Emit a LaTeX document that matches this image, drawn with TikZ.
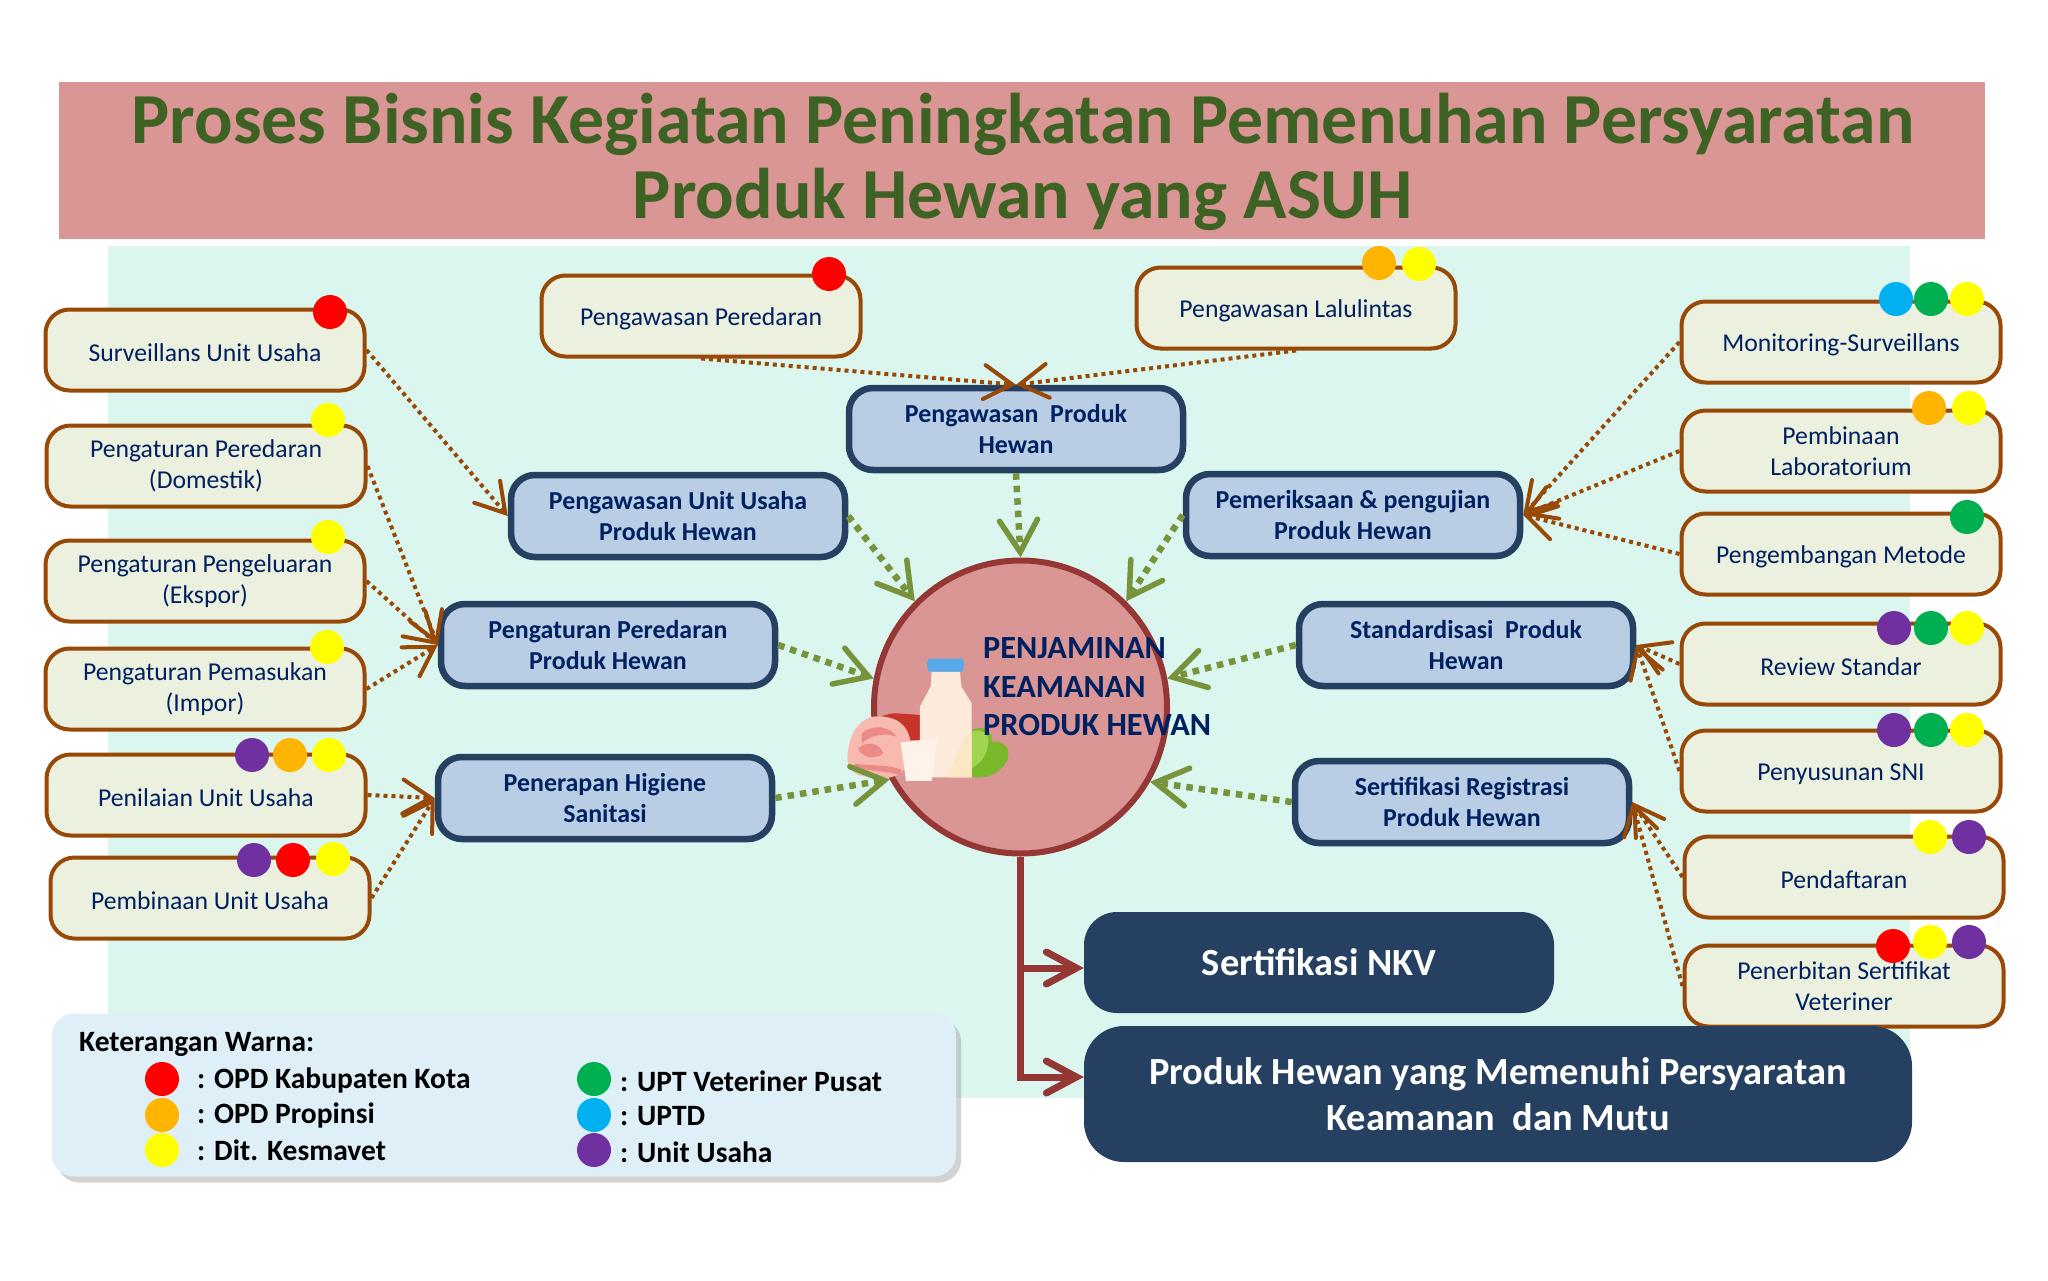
\documentclass[tikz,border=0pt]{standalone}
\usepackage{fontspec}
\setmainfont{Carlito}
\usetikzlibrary{arrows.meta, shadows}

\definecolor{bandfill}{HTML}{D99694}
\definecolor{titlegreen}{HTML}{3D6223}
\definecolor{mintfill}{HTML}{DAF6EE}
\definecolor{tanfill}{HTML}{EBF1DE}
\definecolor{tanline}{HTML}{984807}
\definecolor{bluefill}{HTML}{B9CDE5}
\definecolor{darkblue}{HTML}{254061}
\definecolor{navytext}{HTML}{002060}
\definecolor{hubline}{HTML}{953735}
\definecolor{greenlink}{HTML}{77933C}
\definecolor{legendfill}{HTML}{DEEFF8}
\definecolor{dotred}{HTML}{FF0000}
\definecolor{dotorange}{HTML}{FFB400}
\definecolor{dotyellow}{HTML}{FFFF00}
\definecolor{dotpurple}{HTML}{7030A0}
\definecolor{dotgreen}{HTML}{00B050}
\definecolor{dotcyan}{HTML}{00B0F0}
\definecolor{meatred}{HTML}{C8342A}
\definecolor{meatpink}{HTML}{F7B9B0}
\definecolor{meatdark}{HTML}{EC8A86}
\definecolor{milkfill}{HTML}{FCEBDB}
\definecolor{milkshade}{HTML}{FBE7C4}
\definecolor{glassfill}{HTML}{FDF3E8}
\definecolor{capblue}{HTML}{58A9EA}
\definecolor{leafdark}{HTML}{78B82A}
\definecolor{leaflight}{HTML}{A3D44F}

\tikzset{
  tanbox/.style = {
    rectangle, rounded corners = 24pt, draw = tanline, fill = tanfill, line width = 4pt,
    minimum width = 319pt, minimum height = 81pt, inner sep = 0pt, align = center,
    text = navytext, font = \fontsize{25.7}{31}\selectfont,
    execute at begin node = {\rule{0pt}{23pt}}
  },
  bluebox/.style = {
    rectangle, rounded corners = 24pt, draw = darkblue, fill = bluefill, line width = 6.5pt,
    minimum width = 334pt, minimum height = 82pt, inner sep = 0pt, align = center,
    text = navytext, font = \bfseries\fontsize{25.9}{30.5}\selectfont
  },
  darkbox/.style = {
    rectangle, fill = darkblue, inner sep = 0pt, align = center,
    text = white, font = \bfseries\fontsize{38.4}{46}\selectfont
  },
  dot/.style = { circle, minimum size = 34pt, inner sep = 0pt, fill = #1 },
  legendtext/.style = { anchor = west, inner sep = 0pt, font = \bfseries\fontsize{29.5}{34}\selectfont },
  brownlink/.style = {
    draw = tanline, line width = 4pt, dash pattern = on 4pt off 4pt,
    -{Straight Barb[length = 28pt, width = 34pt, line width = 4pt, line cap = round]}
  },
  greenarrow/.style = {
    draw = greenlink, line width = 6.5pt, dash pattern = on 6.5pt off 6pt,
    -{Straight Barb[length = 32pt, width = 38pt, line width = 5.5pt, line cap = round]}
  },
  hublink/.style = {
    draw = hubline, line width = 7pt,
    -{Straight Barb[length = 30pt, width = 32pt, line width = 7pt, line cap = round]}
  }
}

\begin{document}
\begin{tikzpicture}[x = 1pt, y = -1pt]
  \useasboundingbox (0,0) rectangle (2048,1280);

  % backgrounds
  \fill [bandfill] (59,82) rectangle (1985,239);
  \fill [mintfill] (108,246) rectangle (1910,1098);

  \node [text = titlegreen, align = center, inner sep = 0pt, font = \bfseries\fontsize{71.8}{74.5}\selectfont]
    (title) at (1023,162) {Proses Bisnis Kegiatan Peningkatan Pemenuhan Persyaratan\\Produk Hewan yang ASUH};

  % left activities
  \node [tanbox] (surveillans) at (205,350) {Surveillans Unit Usaha};
  \node [tanbox] (domestik) at (206,466) {Pengaturan Peredaran\\(Domestik)};
  \node [tanbox] (ekspor) at (205,581) {Pengaturan Pengeluaran\\(Ekspor)};
  \node [tanbox] (impor) at (205,689) {Pengaturan Pemasukan\\(Impor)};
  \node [tanbox] (penilaian) at (206,795) {Penilaian Unit Usaha};
  \node [tanbox] (pembinaan) at (210,898) {Pembinaan Unit Usaha};

  % top activities
  \node [tanbox] (peredaran) at (701,316) {Pengawasan Peredaran};
  \node [tanbox] (lalulintas) at (1296,308) {Pengawasan Lalulintas};

  % right activities
  \node [tanbox] (monitoring) at (1841,342) {Monitoring-Surveillans};
  \node [tanbox] (laboratorium) at (1841,451) {Pembinaan\\Laboratorium};
  \node [tanbox] (metode) at (1841,554) {Pengembangan Metode};
  \node [tanbox] (review) at (1841,664) {Review Standar};
  \node [tanbox] (sni) at (1841,771) {Penyusunan SNI};
  \node [tanbox] (pendaftaran) at (1844,877) {Pendaftaran};
  \node [tanbox] (penerbitan) at (1844,986) {Penerbitan Sertifikat\\Veteriner};

  % groups
  \node [bluebox] (unitusaha) at (678,516) {Pengawasan Unit Usaha\\Produk Hewan};
  \node [bluebox] (pengaturan) at (608,645) {Pengaturan Peredaran\\Produk Hewan};
  \node [bluebox] (higiene) at (605,798) {Penerapan Higiene\\Sanitasi};
  \node [bluebox] (pengawasan) at (1016,429) {Pengawasan\ \ Produk\\Hewan};
  \node [bluebox] (pemeriksaan) at (1353,515) {Pemeriksaan \& pengujian\\Produk Hewan};
  \node [bluebox] (standar) at (1466,645) {Standardisasi\ \ Produk\\Hewan};
  \node [bluebox] (sertifikasi) at (1462,802) {Sertifikasi Registrasi\\Produk Hewan};

  % centre
  \node [circle, draw = hubline, fill = bandfill, line width = 6pt, minimum size = 293pt, inner sep = 0pt]
    (hub) at (1020.5,707) {};

  % food picture
  \begin{scope}[shift = {(800,500)}, x = 0.3333pt, y = -0.3333pt]
    \fill [meatred] (225,660) to [out = 30, in = 180] (290,640) -- (362,645) -- (362,720) -- (260,720) -- cycle;
    \fill [meatpink] (142,775) .. controls (145,690) and (190,640) .. (250,650)
      .. controls (310,655) and (340,700) .. (330,760)
      .. controls (320,820) and (290,835) .. (240,835)
      .. controls (190,830) and (145,830) .. (142,775);
    \fill [meatdark] (185,700) .. controls (220,670) and (270,680) .. (290,710)
      .. controls (260,700) and (220,700) .. (185,730) -- cycle;
    \fill [meatdark] (175,745) .. controls (200,720) and (240,730) .. (250,760)
      .. controls (230,780) and (185,775) .. (175,745);
    \fill [meatdark] (165,790) .. controls (200,800) and (260,790) .. (305,810) -- (300,825)
      .. controls (250,810) and (200,815) .. (165,800) -- cycle;
    \fill [leafdark] (515,690) .. controls (550,675) and (580,690) .. (575,725)
      .. controls (610,720) and (635,745) .. (622,780)
      .. controls (600,825) and (550,840) .. (515,830) -- cycle;
    \fill [leaflight] (515,695) .. controls (545,685) and (570,700) .. (565,730)
      .. controls (560,770) and (540,790) .. (515,805) -- cycle;
    \fill [milkfill] (395,515) -- (480,515) -- (484,560) -- (515,610) -- (515,832) -- (390,832) -- (360,800)
      -- (360,620) -- (392,560) -- cycle;
    \fill [milkshade] (440,832) -- (515,832) -- (515,690) -- (490,720) -- cycle;
    \fill [capblue] (386,476) -- (488,476) -- (493,490) -- (488,515) -- (386,515) -- (380,490) -- cycle;
    \fill [glassfill] (302,728) -- (412,715) -- (395,843) -- (318,843) -- cycle;
  \end{scope}

  \node [anchor = west, align = left, inner sep = 0pt, text = navytext,
    font = \bfseries\fontsize{32.3}{38.5}\selectfont] (hubtext) at (983,687)
    {PENJAMINAN\\KEAMANAN\\PRODUK HEWAN};

  % results
  \node [darkbox, rounded corners = 33pt, minimum width = 470pt, minimum height = 101pt] (nkv) at (1319,962.5)
    {Sertifikasi NKV};
  \node [darkbox, rounded corners = 40pt, minimum width = 828pt, minimum height = 136pt] (produk) at (1498,1094)
    {Produk Hewan yang Memenuhi Persyaratan\\Keamanan\ \ dan Mutu};

  % links to the groups
  \draw [brownlink] (surveillans.east) -- (unitusaha.west);
  \draw [brownlink] (domestik.east) -- (pengaturan.west);
  \draw [brownlink] (ekspor.east) -- (pengaturan.west);
  \draw [brownlink] (impor.east) -- (pengaturan.west);
  \draw [brownlink] (penilaian.east) -- (higiene.west);
  \draw [brownlink] (pembinaan.east) -- (higiene.west);
  \draw [brownlink] (peredaran.south) -- (pengawasan.north);
  \draw [brownlink] (lalulintas.south) -- (pengawasan.north);
  \draw [brownlink] (monitoring.west) -- (pemeriksaan.east);
  \draw [brownlink] (laboratorium.west) -- (pemeriksaan.east);
  \draw [brownlink] (metode.west) -- (pemeriksaan.east);
  \draw [brownlink] (review.west) -- (standar.east);
  \draw [brownlink] (sni.west) -- (standar.east);
  \draw [brownlink] (pendaftaran.west) -- (sertifikasi.east);
  \draw [brownlink] (penerbitan.west) -- (sertifikasi.east);

  % links to the centre
  \draw [greenarrow] (pengawasan.south) -- (hub.north);
  \draw [greenarrow] (unitusaha.east) -- (hub.135);
  \draw [greenarrow] (pemeriksaan.west) -- (hub.45);
  \draw [greenarrow] (pengaturan.east) -- (hub.169);
  \draw [greenarrow] (higiene.east) -- (hub.209);
  \draw [greenarrow] (standar.west) -- (hub.11);
  \draw [greenarrow] (sertifikasi.west) -- (hub.-30);

  % links to the results
  \draw [hublink] (hub.south) |- ([yshift = -5.5pt] nkv.west);
  \draw [hublink] (hub.south) |- ([yshift = 17pt] produk.west);

  % dots on the boxes
  \node [dot = dotred] (d1) at (330,312) {};
  \node [dot = dotyellow] (d2) at (328,420) {};
  \node [dot = dotyellow] (d3) at (328,537) {};
  \node [dot = dotyellow] (d4) at (327,647) {};
  \node [dot = dotpurple] (d5) at (252,755) {};
  \node [dot = dotorange] (d6) at (290,755) {};
  \node [dot = dotyellow] (d7) at (329,755) {};
  \node [dot = dotpurple] (d8) at (254,860) {};
  \node [dot = dotred] (d9) at (293,860) {};
  \node [dot = dotyellow] (d10) at (333,859) {};
  \node [dot = dotred] (d11) at (829,274) {};
  \node [dot = dotorange] (d12) at (1379,263) {};
  \node [dot = dotyellow] (d13) at (1419,264) {};
  \node [dot = dotcyan] (d14) at (1896,299) {};
  \node [dot = dotgreen] (d15) at (1931,299) {};
  \node [dot = dotyellow] (d16) at (1967,299) {};
  \node [dot = dotorange] (d17) at (1929,408) {};
  \node [dot = dotyellow] (d18) at (1969,408) {};
  \node [dot = dotgreen] (d19) at (1967,517) {};
  \node [dot = dotpurple] (d20) at (1894,628) {};
  \node [dot = dotgreen] (d21) at (1931,628) {};
  \node [dot = dotyellow] (d22) at (1967,628) {};
  \node [dot = dotpurple] (d23) at (1894,730) {};
  \node [dot = dotgreen] (d24) at (1931,730) {};
  \node [dot = dotyellow] (d25) at (1967,730) {};
  \node [dot = dotyellow] (d26) at (1930,837) {};
  \node [dot = dotpurple] (d27) at (1969,837) {};
  \node [dot = dotred] (d28) at (1893,946) {};
  \node [dot = dotyellow] (d29) at (1930,942) {};
  \node [dot = dotpurple] (d30) at (1969,942) {};

  % legend
  \node [rectangle, rounded corners = 22pt, fill = legendfill, minimum width = 904pt, minimum height = 163pt,
    drop shadow = {shadow xshift = 5pt, shadow yshift = -6pt, fill = black!35}] (legend) at (504,1095) {};
  \node [legendtext] (legendtitle) at (79,1044) {Keterangan Warna:};
  \node [dot = dotred] (l1) at (162,1079) {};
  \node [dot = dotorange] (l2) at (162,1115) {};
  \node [dot = dotyellow] (l3) at (162,1150) {};
  \node [legendtext] (t1) at (197,1080) {: OPD Kabupaten Kota};
  \node [legendtext] (t2) at (197,1115) {: OPD Propinsi};
  \node [legendtext] (t3) at (197,1150) {: Dit. Kesmavet};
  \node [dot = dotgreen] (l4) at (594,1079) {};
  \node [dot = dotcyan] (l5) at (594,1115) {};
  \node [dot = dotpurple] (l6) at (594,1150) {};
  \node [legendtext] (t4) at (620,1081) {: UPT Veteriner Pusat};
  \node [legendtext] (t5) at (620,1116) {: UPTD};
  \node [legendtext] (t6) at (620,1152) {: Unit Usaha};
\end{tikzpicture}
\end{document}
